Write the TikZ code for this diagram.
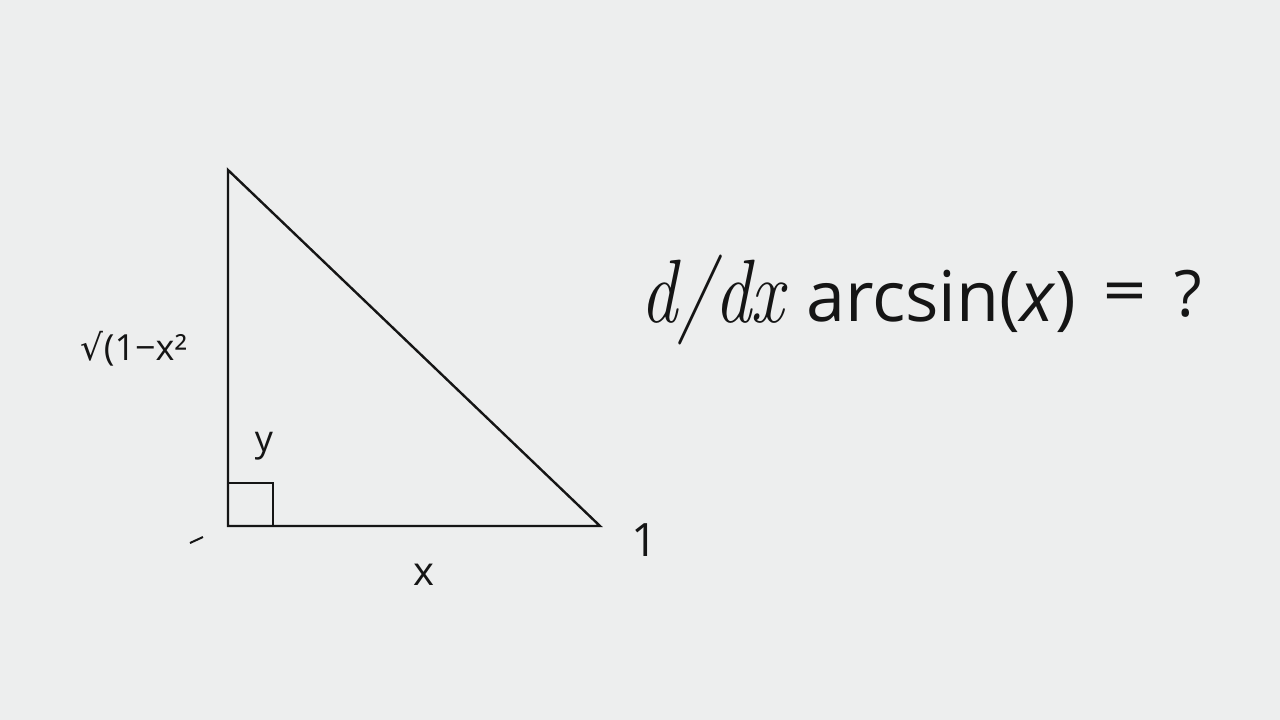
\documentclass[tikz,border=0pt]{standalone}
\usepackage{graphicx}
\usepackage{fontspec}
\setmainfont{Open Sans}
\newfontfamily\symfont{DejaVu Sans}
\newfontfamily\lmfont{Latin Modern Roman}
\definecolor{paper}{HTML}{EDEEEE}
\definecolor{ink}{HTML}{151515}
\tikzset{
  edge/.style={draw=ink, line width=2.4pt, line join=miter},
  lbl/.style={text=ink, inner sep=0pt},
}
\begin{document}
\begin{tikzpicture}[x=1pt,y=-1pt]
        % background
        \fill[paper] (0,0) rectangle (1280,720);
        \useasboundingbox (0,0) rectangle (1280,720);

        % triangle
        \coordinate (top) at (228,170);
        \coordinate (corner) at (228,526);
        \coordinate (right) at (600,526);
        \draw[edge] (top) -- (corner) -- (right) -- cycle;
        \draw[edge, line width=2pt] (228,483) -- (273,483) -- (273,526);

        % labels
        \node[lbl, font=\fontsize{36}{40}\selectfont] (yl) at (264,446) {y};
        \node[lbl, font=\fontsize{40}{46}\selectfont] (xl) at (424,575) {x};
        \node[lbl, font=\fontsize{46}{52}\selectfont] (one) at (645,540) {1};
        \node[lbl, font=\fontsize{36}{40}\selectfont] (side) at (134,349) {{\symfont √}(1−x²};
        \draw[ink, line width=2pt] (190,543) -- (203,537);

        % question
        \node[lbl, font=\fontsize{90}{100}\lmfont\itshape, anchor=base west] (ddx) at (640,322)
          {\scalebox{0.82}[1]{d/dx}};
        \node[lbl, font=\fontsize{70}{80}\selectfont, anchor=base west] (eq) at (806,321)
          {arcsin(\textit{x})};
        \node[lbl, font=\fontsize{56}{60}\symfont, anchor=center] (eqs) at (1125,296) {=};
        \node[lbl, font=\fontsize{64}{70}\selectfont, anchor=base west] (qm) at (1174,316) {?};
\end{tikzpicture}
\end{document}
